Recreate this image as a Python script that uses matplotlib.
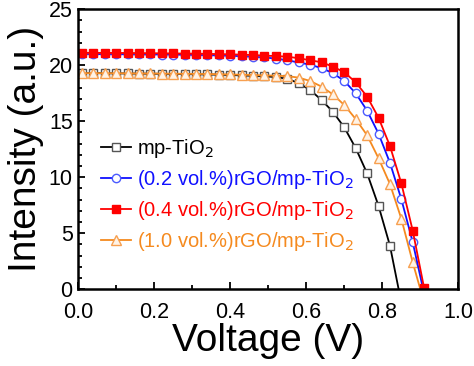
import numpy as np
import matplotlib
matplotlib.use("Agg")
import matplotlib.pyplot as plt
from matplotlib.ticker import MultipleLocator, FormatStrFormatter

plt.rcParams['font.family'] = ['Liberation Sans', 'DejaVu Sans']

# voltage points (V)
voltage = [0.01, 0.04, 0.07, 0.10, 0.13, 0.16, 0.19, 0.22, 0.25, 0.28, 0.31,
           0.34, 0.37, 0.40, 0.43, 0.46, 0.49, 0.52, 0.55, 0.58, 0.61, 0.64,
           0.67, 0.70, 0.73, 0.76, 0.79, 0.82, 0.85, 0.88, 0.91]

# intensity (a.u.) for each sample
mp_tio2 = [19.30, 19.30, 19.29, 19.28, 19.27, 19.26, 19.25, 19.24, 19.23, 19.22,
           19.20, 19.18, 19.16, 19.13, 19.10, 19.06, 19.02, 18.95, 18.80, 18.40,
           17.80, 16.90, 15.85, 14.45, 12.60, 10.35, 7.45, 3.90, -1.20]
rgo_02 = [21.00, 21.00, 20.99, 20.99, 20.98, 20.97, 20.97, 20.96, 20.95, 20.94,
          20.92, 20.90, 20.88, 20.85, 20.81, 20.76, 20.70, 20.60, 20.45, 20.25,
          20.05, 19.75, 19.30, 18.60, 17.50, 15.95, 13.90, 11.30, 8.05, 4.20, -0.40]
rgo_04 = [21.12, 21.11, 21.11, 21.10, 21.10, 21.09, 21.08, 21.07, 21.06, 21.05,
          21.04, 21.02, 21.00, 20.98, 20.95, 20.91, 20.87, 20.82, 20.77, 20.63,
          20.45, 20.27, 19.88, 19.38, 18.48, 17.20, 15.32, 12.80, 9.46, 5.23, 0.10]
rgo_10 = [19.30, 19.30, 19.29, 19.29, 19.28, 19.27, 19.27, 19.26, 19.25, 19.24,
          19.23, 19.22, 19.20, 19.18, 19.16, 19.13, 19.10, 19.07, 19.03, 18.90,
          18.60, 18.10, 17.40, 16.45, 15.20, 13.75, 11.70, 9.40, 6.30, 2.40, -1.20]

labels = ['mp-TiO$_2$', '(0.2 vol.%)rGO/mp-TiO$_2$',
          '(0.4 vol.%)rGO/mp-TiO$_2$', '(1.0 vol.%)rGO/mp-TiO$_2$']
colors = ['black', '#1010ff', '#ff0000', '#f58a1f']

fig = plt.figure(figsize=(4.74, 3.66), dpi=100)
ax = fig.add_axes([0.165, 0.2096, 0.802, 0.765])

ax.plot(voltage[:len(mp_tio2)], mp_tio2, '-s', color=colors[0], lw=1.3,
        ms=5.5, mfc='white', mec='#555555', mew=1, label=labels[0])
ax.plot(voltage, rgo_10, '-^', color=colors[3], lw=1.3,
        ms=7, mfc='#fff3e6', mec='#f7a050', mew=1, label=labels[3])
ax.plot(voltage, rgo_02, '-o', color=colors[1], lw=1.3,
        ms=6, mfc='white', mec='#4a5aff', mew=1, label=labels[1])
ax.plot(voltage, rgo_04, '-s', color=colors[2], lw=1.3,
        ms=6, mfc='#ff0000', mec='#ff0000', label=labels[2])

ax.set_xlim(0, 1.0)
ax.set_ylim(0, 25)
ax.xaxis.set_major_locator(MultipleLocator(0.2))
ax.xaxis.set_minor_locator(MultipleLocator(0.1))
ax.xaxis.set_major_formatter(FormatStrFormatter('%.1f'))
ax.yaxis.set_major_locator(MultipleLocator(5))
ax.yaxis.set_minor_locator(MultipleLocator(1))
ax.tick_params(which='both', direction='in', top=False, right=False,
               labelsize=15.5, width=1.3)
ax.tick_params(which='major', length=5)
ax.tick_params(which='minor', length=3)
ax.tick_params(axis='x', pad=9)
ax.tick_params(axis='y', pad=4)
for s in ax.spines.values():
    s.set_linewidth(1.8)

ax.set_xlabel('Voltage (V)', fontsize=28, labelpad=0)
ax.set_ylabel('Intensity (a.u.)', fontsize=28, labelpad=3)

handles, labs = ax.get_legend_handles_labels()
order = [0, 2, 3, 1]
leg = ax.legend([handles[i] for i in order], [labs[i] for i in order],
                loc='lower left', bbox_to_anchor=(0.04, 0.10), frameon=False,
                fontsize=14.5, handlelength=1.45, handletextpad=0.3,
                labelspacing=0.4, borderaxespad=0)
for t, c in zip(leg.get_texts(), colors):
    t.set_color(c)

fig.savefig('out.png', dpi=100)
